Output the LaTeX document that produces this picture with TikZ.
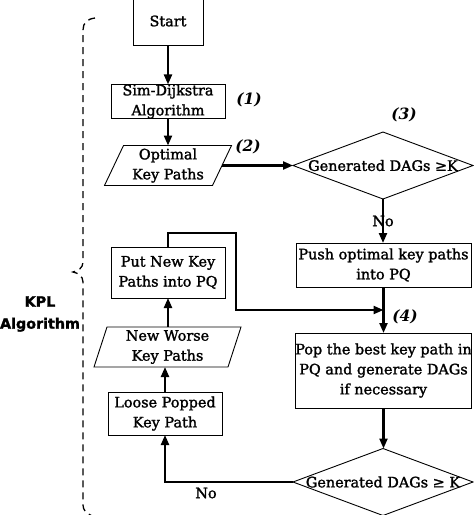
\documentclass[tikz,border=0pt]{standalone}
\usepackage{fontspec}
\setmainfont{DejaVu Serif}[UprightFeatures={FakeBold=1.6}]
\newfontfamily\kplfont{DejaVu Sans}[BoldFeatures={FakeBold=1.5}]
\usetikzlibrary{arrows.meta}
\begin{document}
\begin{tikzpicture}[x=1pt,y=-1pt,
  every node/.style={inner sep=0pt, outer sep=0pt},
  txt/.style={font=\fontsize{14.4}{20}\selectfont, align=center},
  box/.style={txt, draw, line width=0.9pt, minimum width=#1},
  lab/.style={font=\fontsize{15.5}{20}\selectfont\bfseries\itshape},
  arr/.style={line width=2.2pt, -{Triangle[length=10pt,width=8pt]}},
  bracepath/.style={line width=1.3pt, dash pattern=on 7pt off 5pt},
  kpl/.style={font=\kplfont\fontsize{14.3}{22}\selectfont\bfseries, align=center}]
\useasboundingbox (0,0) rectangle (474,515);
\clip (0,0) rectangle (474,515);
% nodes
\node[box=70, minimum height=48] (start) at (168,21) {Start};
\node[box=114, minimum height=33] (sim) at (168,101.5) {Sim-Dijkstra\\Algorithm};
\node[txt, minimum width=108, minimum height=40] (opt) at (168,165.5) {Optimal\\Key Paths};
\draw[line width=0.9pt] ([xshift=9.5pt]opt.north west) -- ([xshift=9.5pt]opt.north east)
  -- ([xshift=-9.5pt]opt.south east) -- ([xshift=-9.5pt]opt.south west) -- cycle;
\node[txt, minimum width=180, minimum height=67] (d1) at (383,165.5) {Generated DAGs ≥K};
\draw[line width=0.9pt] (d1.west) -- (d1.north) -- (d1.east) -- (d1.south) -- cycle;
\node[box=175, minimum height=44] (push) at (383.5,265) {Push optimal key paths\\into PQ};
\node[box=175, minimum height=75] (pop) at (383.5,370.5) {Pop the best key path in\\PQ and generate DAGs\\if necessary};
\node[txt, minimum width=180, minimum height=67] (d2) at (383,482) {Generated DAGs ≥ K};
\draw[line width=0.9pt] (d2.west) -- (d2.north) -- (d2.east) -- (d2.south) -- cycle;
\node[box=114, minimum height=51] (put) at (168,272.5) {Put New Key\\Paths into PQ};
\node[txt, minimum width=134, minimum height=40] (nw) at (167.5,347) {New Worse\\Key Paths};
\draw[line width=0.9pt] ([xshift=6.5pt]nw.north west) -- ([xshift=6.5pt]nw.north east)
  -- ([xshift=-6.5pt]nw.south east) -- ([xshift=-6.5pt]nw.south west) -- cycle;
\node[box=114, minimum height=43] (loose) at (165,413.5) {Loose Popped\\Key Path};
% labels
\node[lab] (l1) at (249,100) {(1)};
\node[lab] (l2) at (248,147) {(2)};
\node[lab] (l3) at (404,115) {(3)};
\node[lab] (l4) at (405,317) {(4)};
\node[txt] (no1) at (383,221) {No};
\node[txt] (no2) at (206,493) {No};
\node[kpl] (kpl) at (40,314) {KPL\\Algorithm};
% coordinates
\coordinate (loopA) at (236,233);
\coordinate (loopB) at (236,310);
\coordinate (merge) at (383.5,310);
% connectors
\draw[arr] (start.south) -- (sim.north);
\draw[arr] (sim.south) -- (opt.north);
\draw[arr] (opt.east) -- (d1.west);
\draw[arr] (d1.south) -- (d1.south |- push.north);
\draw[arr] (push.south) -- (pop.north);
\draw[arr] (pop.south) -- (pop.south |- d2.north);
\draw[arr] (d2.west) -| (loose.south);
\draw[arr] (loose.north) -- (loose.north |- nw.south);
\draw[arr] (nw.north -| put.south) -- (put.south);
\draw[line width=2.2pt] (put.north) |- (loopA) -- (loopB) -- ([xshift=-3pt]merge);
\draw[arr] (loopB) -- (merge);
% brace
\draw[bracepath] (95,18) .. controls (87,19) and (83,23) .. (83,30) -- (83,262)
  .. controls (83,268) and (78,271) .. (73,272)
  .. controls (78,273) and (83,276) .. (83,282) -- (83,505)
  .. controls (83,510) and (86,513) .. (92,516);
\end{tikzpicture}
\end{document}
